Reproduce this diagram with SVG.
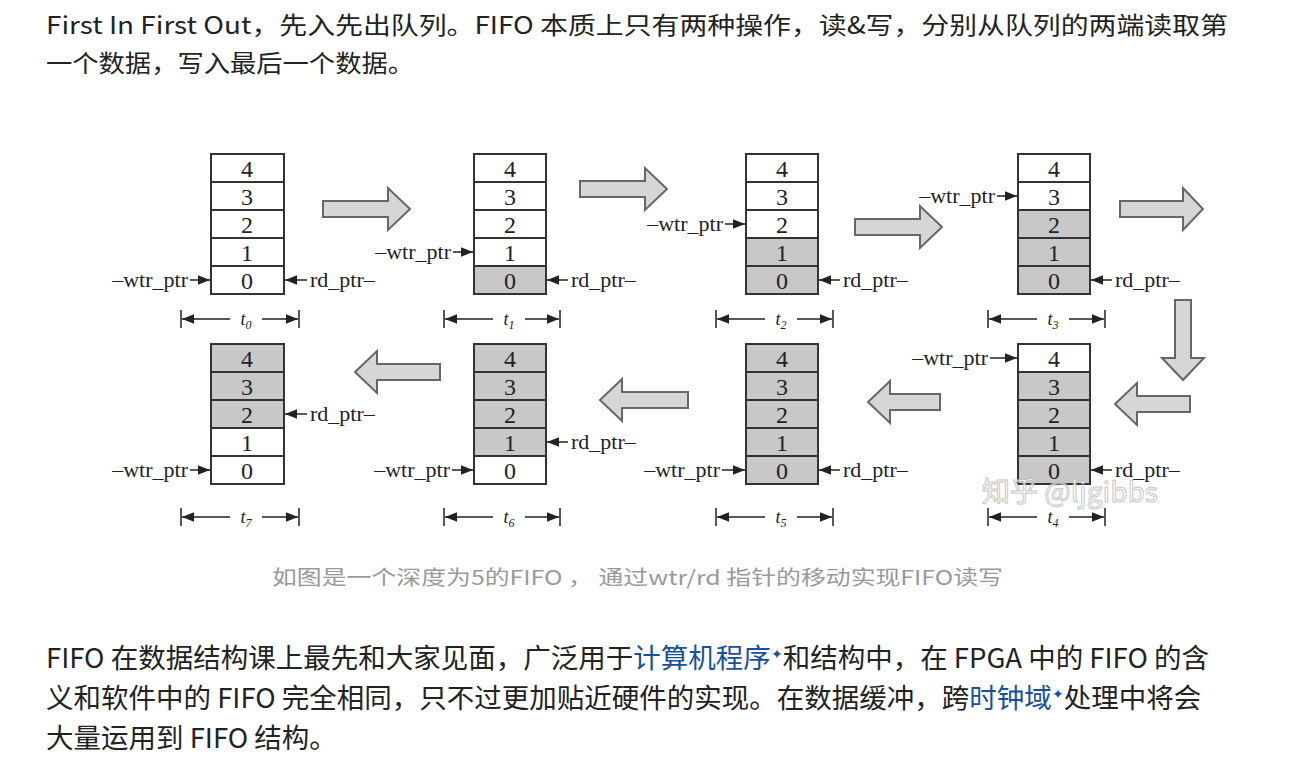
<svg xmlns="http://www.w3.org/2000/svg" width="1297" height="761" viewBox="0 0 1297 761">
<style>
.p{font-family:"Noto Sans CJK SC","Noto Sans",sans-serif;font-size:24px;fill:#222}
.q{font-family:"Noto Sans CJK SC","Noto Sans",sans-serif;font-size:27.5px;fill:#222}
.lk{fill:#175199}
.cap{font-family:"Noto Sans CJK SC","Noto Sans",sans-serif;font-size:20px;fill:#999}
.c{fill:#fff;stroke:#333;stroke-width:2}
.s{fill:#c8c8c8;stroke:#333;stroke-width:2}
.n{font-family:"Liberation Serif",serif;font-size:24px;fill:#222;text-anchor:middle}
.lb{font-family:"Liberation Serif",serif;font-size:22px;fill:#222}
.t{font-family:"Liberation Serif",serif;font-size:18px;font-style:italic;fill:#222;text-anchor:middle}
.ar{fill:#d6d6d6;stroke:#666;stroke-width:2}
.ln{stroke:#222;stroke-width:1.5;fill:none}
</style>
<defs>
<marker id="h" viewBox="0 0 10 10" refX="10" refY="5" markerWidth="8" markerHeight="8" orient="auto-start-reverse"><path d="M0,1L10,5L0,9z" fill="#222"/></marker>
</defs>
<text class="p" x="46" y="34" textLength="1182" lengthAdjust="spacingAndGlyphs">First In First Out，先入先出队列。FIFO 本质上只有两种操作，读&amp;写，分别从队列的两端读取第</text>
<text class="p" x="46" y="72" textLength="368" lengthAdjust="spacingAndGlyphs">一个数据，写入最后一个数据。</text>

<g id="arrows" class="ar">
<path d="M323,201H388V188L410,209L388,230V217H323z"/>
<path d="M580,181H645V168L667,189L645,210V197H580z"/>
<path d="M855,219H920V206L942,227L920,248V235H855z"/>
<path d="M1120,201H1183V188L1203,209L1183,230V217H1120z"/>
<path d="M1175,300V358H1162L1183,380L1204,358H1191V300z"/>
<path d="M1190,396H1137V383L1115,404L1137,425V412H1190z"/>
<path d="M940,394H890V381L868,402L890,423V410H940z"/>
<path d="M688,392H622V379L600,400L622,421V408H688z"/>
<path d="M440,364H377V351L355,372L377,393V380H440z"/>
</g>

<g id="n0"><rect class="c" x="211" y="154" width="73" height="28"/><rect class="c" x="211" y="182" width="73" height="28"/><rect class="c" x="211" y="210" width="73" height="28"/><rect class="c" x="211" y="238" width="73" height="28"/><rect class="c" x="211" y="266" width="73" height="28"/>
<text class="n" x="247" y="177">4</text><text class="n" x="247" y="205">3</text><text class="n" x="247" y="233">2</text><text class="n" x="247" y="261">1</text><text class="n" x="247" y="289">0</text></g>
<g id="n1"><rect class="c" x="474" y="154" width="72" height="28"/><rect class="c" x="474" y="182" width="72" height="28"/><rect class="c" x="474" y="210" width="72" height="28"/><rect class="c" x="474" y="238" width="72" height="28"/><rect class="s" x="474" y="266" width="72" height="28"/>
<text class="n" x="510" y="177">4</text><text class="n" x="510" y="205">3</text><text class="n" x="510" y="233">2</text><text class="n" x="510" y="261">1</text><text class="n" x="510" y="289">0</text></g>
<g id="n2"><rect class="c" x="746" y="154" width="72" height="28"/><rect class="c" x="746" y="182" width="72" height="28"/><rect class="c" x="746" y="210" width="72" height="28"/><rect class="s" x="746" y="238" width="72" height="28"/><rect class="s" x="746" y="266" width="72" height="28"/>
<text class="n" x="782" y="177">4</text><text class="n" x="782" y="205">3</text><text class="n" x="782" y="233">2</text><text class="n" x="782" y="261">1</text><text class="n" x="782" y="289">0</text></g>
<g id="n3"><rect class="c" x="1018" y="154" width="72" height="28"/><rect class="c" x="1018" y="182" width="72" height="28"/><rect class="s" x="1018" y="210" width="72" height="28"/><rect class="s" x="1018" y="238" width="72" height="28"/><rect class="s" x="1018" y="266" width="72" height="28"/>
<text class="n" x="1054" y="177">4</text><text class="n" x="1054" y="205">3</text><text class="n" x="1054" y="233">2</text><text class="n" x="1054" y="261">1</text><text class="n" x="1054" y="289">0</text></g>

<g id="n4"><rect class="c" x="1018" y="344" width="72" height="28"/><rect class="s" x="1018" y="372" width="72" height="28"/><rect class="s" x="1018" y="400" width="72" height="28"/><rect class="s" x="1018" y="428" width="72" height="28"/><rect class="s" x="1018" y="456" width="72" height="28"/>
<text class="n" x="1054" y="367">4</text><text class="n" x="1054" y="395">3</text><text class="n" x="1054" y="423">2</text><text class="n" x="1054" y="451">1</text><text class="n" x="1054" y="479">0</text></g>
<g id="n5"><rect class="s" x="746" y="344" width="72" height="28"/><rect class="s" x="746" y="372" width="72" height="28"/><rect class="s" x="746" y="400" width="72" height="28"/><rect class="s" x="746" y="428" width="72" height="28"/><rect class="s" x="746" y="456" width="72" height="28"/>
<text class="n" x="782" y="367">4</text><text class="n" x="782" y="395">3</text><text class="n" x="782" y="423">2</text><text class="n" x="782" y="451">1</text><text class="n" x="782" y="479">0</text></g>
<g id="n6"><rect class="s" x="474" y="344" width="72" height="28"/><rect class="s" x="474" y="372" width="72" height="28"/><rect class="s" x="474" y="400" width="72" height="28"/><rect class="s" x="474" y="428" width="72" height="28"/><rect class="c" x="474" y="456" width="72" height="28"/>
<text class="n" x="510" y="367">4</text><text class="n" x="510" y="395">3</text><text class="n" x="510" y="423">2</text><text class="n" x="510" y="451">1</text><text class="n" x="510" y="479">0</text></g>
<g id="n7"><rect class="s" x="211" y="344" width="73" height="28"/><rect class="s" x="211" y="372" width="73" height="28"/><rect class="s" x="211" y="400" width="73" height="28"/><rect class="c" x="211" y="428" width="73" height="28"/><rect class="c" x="211" y="456" width="73" height="28"/>
<text class="n" x="247" y="367">4</text><text class="n" x="247" y="395">3</text><text class="n" x="247" y="423">2</text><text class="n" x="247" y="451">1</text><text class="n" x="247" y="479">0</text></g>

<g id="connectors" class="ln">
<path marker-end="url(#h)" d="M190,280H210"/>
<path marker-end="url(#h)" d="M453,252H473"/>
<path marker-end="url(#h)" d="M725,224H745"/>
<path marker-end="url(#h)" d="M997,196H1017"/>
<path marker-end="url(#h)" d="M990,358H1017"/>
<path marker-end="url(#h)" d="M722,470H745"/>
<path marker-end="url(#h)" d="M452,470H473"/>
<path marker-end="url(#h)" d="M190,470H210"/>
<path marker-end="url(#h)" d="M307,280H285"/>
<path marker-end="url(#h)" d="M568,280H547"/>
<path marker-end="url(#h)" d="M840,280H819"/>
<path marker-end="url(#h)" d="M1112,280H1091"/>
<path marker-end="url(#h)" d="M1112,470H1091"/>
<path marker-end="url(#h)" d="M840,470H819"/>
<path marker-end="url(#h)" d="M568,442H547"/>
<path marker-end="url(#h)" d="M307,414H285"/>
<path d="M181,310V328M299,310V328M444,310V328M560,310V328M716,310V328M833,310V328M988,310V328M1105,310V328"/>
<path d="M181,508V526M299,508V526M444,508V526M560,508V526M716,508V526M833,508V526M988,508V526M1105,508V526"/>
<path marker-start="url(#h)" marker-end="url(#h)" d="M182,319H230M262,319H298"/>
<path marker-start="url(#h)" marker-end="url(#h)" d="M445,319H493M525,319H559"/>
<path marker-start="url(#h)" marker-end="url(#h)" d="M717,319H765M797,319H832"/>
<path marker-start="url(#h)" marker-end="url(#h)" d="M989,319H1037M1069,319H1104"/>
<path marker-start="url(#h)" marker-end="url(#h)" d="M182,517H230M262,517H298"/>
<path marker-start="url(#h)" marker-end="url(#h)" d="M445,517H493M525,517H559"/>
<path marker-start="url(#h)" marker-end="url(#h)" d="M717,517H765M797,517H832"/>
<path marker-start="url(#h)" marker-end="url(#h)" d="M989,517H1037M1069,517H1104"/>
</g>

<g id="labels">
<text class="lb" x="188" y="287" text-anchor="end">–wtr_ptr</text>
<text class="lb" x="451" y="259" text-anchor="end">–wtr_ptr</text>
<text class="lb" x="723" y="231" text-anchor="end">–wtr_ptr</text>
<text class="lb" x="995" y="203" text-anchor="end">–wtr_ptr</text>
<text class="lb" x="988" y="365" text-anchor="end">–wtr_ptr</text>
<text class="lb" x="720" y="477" text-anchor="end">–wtr_ptr</text>
<text class="lb" x="450" y="477" text-anchor="end">–wtr_ptr</text>
<text class="lb" x="188" y="477" text-anchor="end">–wtr_ptr</text>
<text class="lb" x="310" y="287">rd_ptr–</text>
<text class="lb" x="571" y="287">rd_ptr–</text>
<text class="lb" x="843" y="287">rd_ptr–</text>
<text class="lb" x="1115" y="287">rd_ptr–</text>
<text class="lb" x="1115" y="477">rd_ptr–</text>
<text class="lb" x="843" y="477">rd_ptr–</text>
<text class="lb" x="571" y="449">rd_ptr–</text>
<text class="lb" x="310" y="421">rd_ptr–</text>
<text class="t" x="246" y="325">t<tspan font-size="12" dy="4">0</tspan></text>
<text class="t" x="509" y="325">t<tspan font-size="12" dy="4">1</tspan></text>
<text class="t" x="781" y="325">t<tspan font-size="12" dy="4">2</tspan></text>
<text class="t" x="1053" y="325">t<tspan font-size="12" dy="4">3</tspan></text>
<text class="t" x="1053" y="523">t<tspan font-size="12" dy="4">4</tspan></text>
<text class="t" x="781" y="523">t<tspan font-size="12" dy="4">5</tspan></text>
<text class="t" x="509" y="523">t<tspan font-size="12" dy="4">6</tspan></text>
<text class="t" x="246" y="523">t<tspan font-size="12" dy="4">7</tspan></text>
<text x="982" y="502" font-family="Noto Sans CJK SC,Noto Sans,sans-serif" font-size="28" fill="#fff" stroke="#bbb" stroke-width="1" opacity="0.8">知乎 @ljgibbs</text>
</g>

<text class="cap" x="272" y="585" textLength="731" lengthAdjust="spacingAndGlyphs">如图是一个深度为5的FIFO ， 通过wtr/rd 指针的移动实现FIFO读写</text>
<text class="q" x="46" y="668">FIFO 在数据结构课上最先和大家见面，广泛用于<tspan class="lk">计算机程序</tspan><tspan class="lk" font-size="14" dy="-9">✦</tspan><tspan dy="9">和结构中，在 FPGA 中的 FIFO 的含</tspan></text>
<text class="q" x="46" y="708">义和软件中的 FIFO 完全相同，只不过更加贴近硬件的实现。在数据缓冲，跨<tspan class="lk">时钟域</tspan><tspan class="lk" font-size="14" dy="-9">✦</tspan><tspan dy="9">处理中将会</tspan></text>
<text class="q" x="46" y="748">大量运用到 FIFO 结构。</text>
</svg>
